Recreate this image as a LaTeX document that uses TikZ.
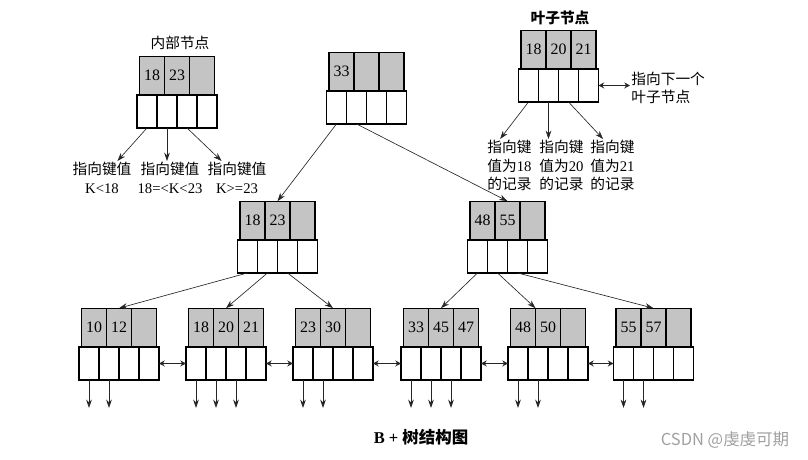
\documentclass[tikz,border=0pt]{standalone}
\usepackage{fontspec}
\setmainfont{Liberation Serif}
\newfontfamily\cjk{Noto Sans CJK SC}
\usetikzlibrary{arrows.meta,positioning,calc}
\definecolor{keygray}{HTML}{C4C4C4}
\definecolor{linegray}{HTML}{262626}
\definecolor{markgray}{HTML}{A0A0A0}
\tikzset{
  keycell/.style={draw=black, line width=1.1pt, fill=keygray, minimum width=21.25pt, minimum height=33pt, inner sep=0pt, outer sep=0pt, font=\fontsize{13.5}{16}\selectfont},
  ptrcell/.style={draw=black, line width=1.1pt, fill=white, minimum width=17pt, minimum height=28pt, inner sep=0pt, outer sep=0pt},
  note/.style={align=center, inner sep=1pt},
  leafnote/.style={align=left, inner sep=1pt},
  arrow/.style={-{Stealth[length=2.5mm, width=1.7mm]}, draw=linegray, line width=0.55pt},
  link/.style={{Stealth[length=1.7mm, width=1.8mm]}-{Stealth[length=1.7mm, width=1.8mm]}, draw=linegray, line width=0.8pt}
}
\newcommand{\zh}[1]{{\cjk #1}}
% one B+ tree node: name, join point, three keys
\newcommand{\bpnode}[5]{%
  \coordinate (#1) at (#2);
  \node[keycell, anchor=south] (#1-k2) at (#1) {#4};
  \node[keycell, left=0pt of #1-k2] (#1-k1) {#3};
  \node[keycell, right=0pt of #1-k2] (#1-k3) {#5};
  \node[ptrcell, anchor=north east] (#1-p2) at (#1) {};
  \node[ptrcell, left=0pt of #1-p2] (#1-p1) {};
  \node[ptrcell, anchor=north west] (#1-p3) at (#1) {};
  \node[ptrcell, right=0pt of #1-p3] (#1-p4) {};
}

\begin{document}
\begin{tikzpicture}[x=0.85pt, y=-0.85pt, font=\fontsize{12.5}{15.5}\selectfont]
  \useasboundingbox (0,0) rectangle (808,460);

  % legend: internal node
  \node (innerTitle) at (180,43) {\zh{内部节点}};
  \bpnode{inner}{177,95}{18}{23}{}
  \node[note, anchor=north] (innerA) at (102,161) {\zh{指向键值}\\K<18};
  \node[note, anchor=north] (innerB) at (170,161) {\zh{指向键值}\\18=<K<23};
  \node[note, anchor=north] (innerC) at (237,161) {\zh{指向键值}\\K>=23};
  \draw[arrow] (inner-p1.south) -- ($(innerA.north)!.5!(innerA.north east)$);
  \draw[arrow] (inner-p2.south) -- (inner-p2.south |- innerB.north);
  \draw[arrow] (inner-p3.south) -- ($(innerC.north)!.5!(innerC.north west)$);

  % legend: leaf node
  \node[font=\fontsize{12.5}{15.5}\selectfont\bfseries] (leafTitle) at (560,18) {\zh{叶子节点}};
  \bpnode{leafNote}{558.5,69}{18}{20}{21}
  \node[leafnote, anchor=north west] (noteA) at (486,139) {\zh{指向键}\\\zh{值为}18\\\zh{的记录}};
  \node[leafnote, anchor=north west] (noteB) at (538,139) {\zh{指向键}\\\zh{值为}20\\\zh{的记录}};
  \node[leafnote, anchor=north west] (noteC) at (589,139) {\zh{指向键}\\\zh{值为}21\\\zh{的记录}};
  \node[leafnote, anchor=west] (nextNote) at (630,88) {\zh{指向下一个}\\\zh{叶子节点}};
  \draw[arrow] (leafNote-p1.south) -- ($(noteA.north west)!.6!(noteA.north)$);
  \draw[arrow] (leafNote-p2.south) -- (leafNote-p2.south |- noteB.north);
  \draw[arrow] (leafNote-p3.south) -- ($(noteC.north west)!.6!(noteC.north)$);
  \draw[link] (leafNote-p4.east) -- (leafNote-p4.east -| nextNote.west);

  % the tree
  \bpnode{root}{366.5,91}{33}{}{}
  \bpnode{midL}{277.5,240}{18}{23}{}
  \bpnode{midR}{507.5,240}{48}{55}{}
  \bpnode{leafA}{119,347}{10}{12}{}
  \bpnode{leafB}{226,347}{18}{20}{21}
  \bpnode{leafC}{333,347}{23}{30}{}
  \bpnode{leafD}{441,347}{33}{45}{47}
  \bpnode{leafE}{548,347}{48}{50}{}
  \bpnode{leafF}{653.5,347}{55}{57}{}

  \draw[arrow] (root-p1.south) -- (midL-k2.north);
  \draw[arrow] (root-p2.south) -- (midR-k2.north);
  \draw[arrow] (midL-p1.south) -- (leafA-k2.north);
  \draw[arrow] (midL-p2.south) -- (leafB-k2.north);
  \draw[arrow] (midL-p3.south) -- (leafC-k2.north);
  \draw[arrow] (midR-p1.south) -- (leafD-k2.north);
  \draw[arrow] (midR-p2.south) -- (leafE-k2.north west);
  \draw[arrow] (midR-p3.south) -- (leafF-k2.north);

  \foreach \a/\b in {leafA/leafB, leafB/leafC, leafC/leafD, leafD/leafE, leafE/leafF}
    \draw[link] (\a-p4.east) -- (\b-p1.west);

  \foreach \leaf/\n in {leafA/2, leafB/3, leafC/2, leafD/3, leafE/2, leafF/2}
    \foreach \i in {1,...,\n} {
      \coordinate (\leaf-r\i) at ($(\leaf-p\i.south)+(0,28)$);
      \draw[arrow] (\leaf-p\i.south) -- (\leaf-r\i);
    }

  \node[font=\fontsize{14}{16}\selectfont\bfseries] (caption) at (421,437) {B + \zh{树结构图}};
  \node[text=markgray, font=\fontsize{14}{16}\selectfont\cjk] (mark) at (725,440) {CSDN @虔虔可期};
\end{tikzpicture}
\end{document}
